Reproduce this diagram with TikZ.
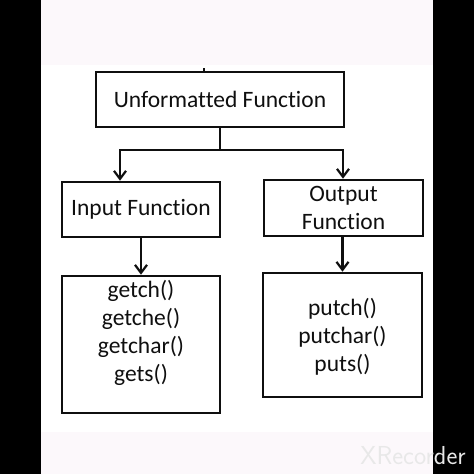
\documentclass[tikz,border=0pt]{standalone}
\usepackage{fontspec}
\setmainfont{Carlito}[Ligatures={NoCommon}]
\usetikzlibrary{arrows.meta}
\definecolor{slide}{RGB}{252,248,251}
\definecolor{ink}{RGB}{15,15,15}
\tikzset{
  fnbox/.style={draw=ink, line width=2.6pt, rectangle, inner sep=0pt, text=ink,
    font=\fontsize{23.5}{28}\selectfont, align=center},
  fnlist/.style={text=ink, inner sep=0pt, font=\fontsize{23.5}{28}\selectfont, align=center},
  link/.style={draw=ink, line width=2.6pt},
  arr/.style={link, -{Straight Barb[length=8pt,width=12pt,line width=2.2pt]}},
  arrs/.style={link, {Straight Barb[length=8pt,width=12pt,line width=2.2pt]}-{Straight Barb[length=8pt,width=12pt,line width=2.2pt]}}
}
\begin{document}
\begin{tikzpicture}[x=1pt,y=-1pt]
	\useasboundingbox (0,0) rectangle (474,474);
	% slide background
	\fill[black] (0,0) rectangle (474,474);
	\fill[white] (41,0) rectangle (433,474);
	\fill[slide] (41,0) rectangle (433,65);
	\fill[slide] (41,432) rectangle (433,474);
	% boxes
	\node[fnbox, minimum width=248pt, minimum height=55pt] (unf) at (220,99.5) {Unformatted Function};
	\node[fnbox, minimum width=158pt, minimum height=55pt] (inp) at (141,209.5) {Input Function};
	\node[fnbox, minimum width=159pt, minimum height=56pt] (outp) at (343.5,208) {Output\\Function};
	\node[fnbox, minimum width=158pt, minimum height=137pt] (getbox) at (141,344.5) {};
	\node[fnbox, minimum width=159pt, minimum height=124pt] (putbox) at (342.5,335) {};
	\node[fnlist] (getlist) at (141,333) {getch()\\getche()\\getchar()\\gets()};
	\node[fnlist] (putlist) at (342.5,337) {putch()\\putchar()\\puts()};
	% connectors
	\coordinate (lt) at (120,150);
	\coordinate (rt) at (343,150);
	\draw[ink, line width=1.2pt] (204,68) -- (unf.north -| 204,0);
	\draw[link] (unf.south) -- (unf.south |- lt);
	\draw[arrs] (lt |- inp.north) -- (lt) -- (rt) -- (rt |- outp.north);
	\draw[arr] (inp.south -| getbox.north) -- (getbox.north);
	\draw[arr] (outp.south -| putbox.north) -- (putbox.north);
	% watermark
	\node[text=gray!18, font=\fontsize{26}{26}\sffamily, inner sep=0pt] (mark) at (413,456) {XRecorder};
\end{tikzpicture}
\end{document}
